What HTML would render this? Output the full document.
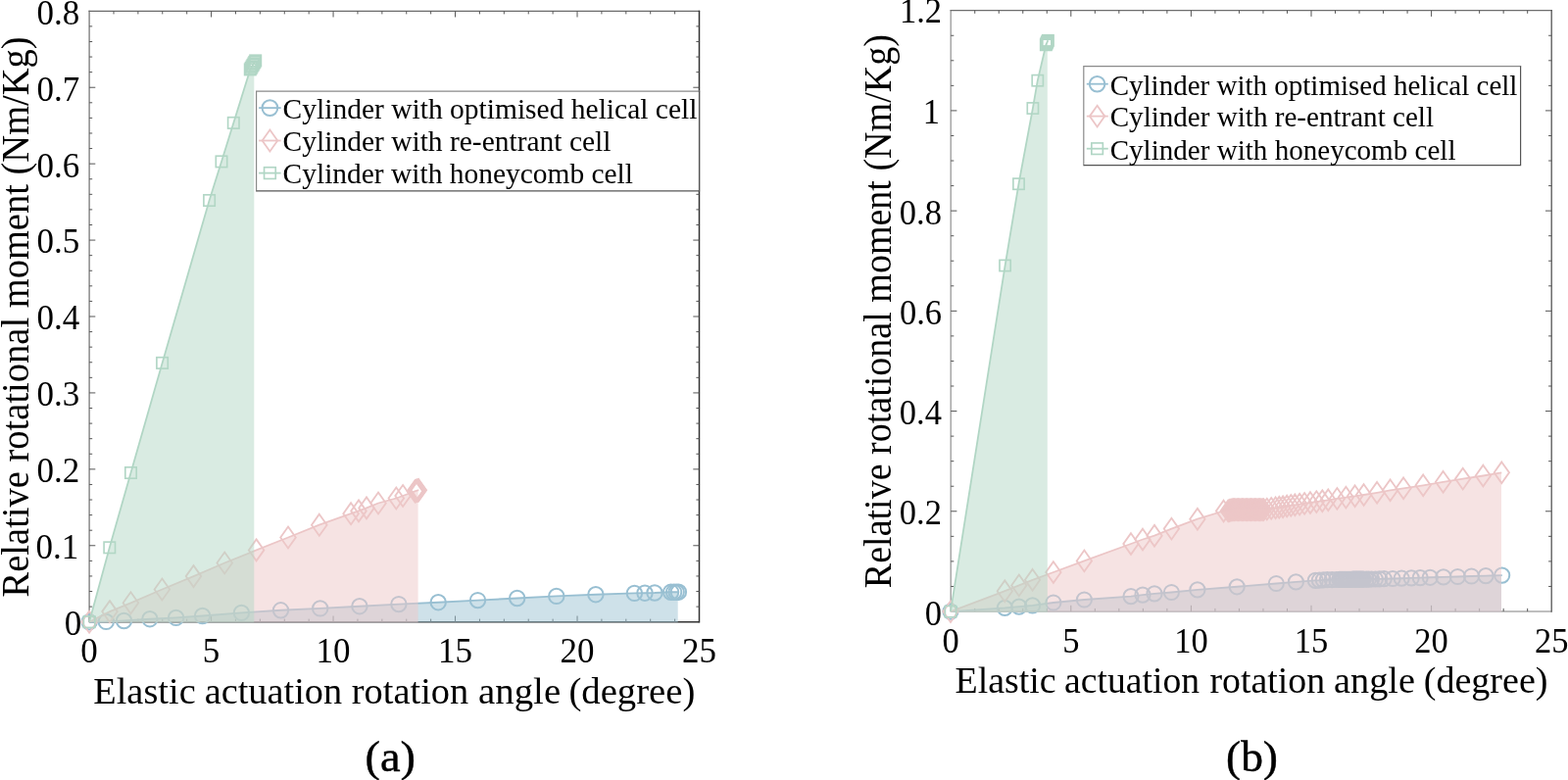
<!DOCTYPE html>
<html lang="en">
<head>
<meta charset="utf-8">
<title>Relative rotational moment vs elastic actuation rotation angle</title>
<style>
html,body{margin:0;padding:0;background:#fff;}
body{width:1600px;height:796px;overflow:hidden;}
svg{display:block;}
svg text{font-family:"Liberation Serif", "Times New Roman", serif;fill:#000;}
</style>
</head>
<body>
<svg width="1600" height="796" viewBox="0 0 1600 796">
<rect width="1600" height="796" fill="#fff"/>
<g id="chart-a">
<path d="M91.1 635.3V10.7" fill="none" stroke="#777" stroke-width="1.3"/>
<path d="M90.5 11.3H714.1" fill="none" stroke="#6a6a6a" stroke-width="1.3"/>
<path d="M91.1 634.7H713.5" fill="none" stroke="#333" stroke-width="1.5"/>
<path d="M713.5 10.7V635.4" fill="none" stroke="#333" stroke-width="1.5"/>
<path d="M116 634.7v-3.1M116 11.3v3.1M140.89 634.7v-3.1M140.89 11.3v3.1M165.79 634.7v-3.1M165.79 11.3v3.1M190.68 634.7v-3.1M190.68 11.3v3.1M215.58 634.7v-6.2M215.58 11.3v6.2M240.48 634.7v-3.1M240.48 11.3v3.1M265.37 634.7v-3.1M265.37 11.3v3.1M290.27 634.7v-3.1M290.27 11.3v3.1M315.16 634.7v-3.1M315.16 11.3v3.1M340.06 634.7v-6.2M340.06 11.3v6.2M364.96 634.7v-3.1M364.96 11.3v3.1M389.85 634.7v-3.1M389.85 11.3v3.1M414.75 634.7v-3.1M414.75 11.3v3.1M439.64 634.7v-3.1M439.64 11.3v3.1M464.54 634.7v-6.2M464.54 11.3v6.2M489.44 634.7v-3.1M489.44 11.3v3.1M514.33 634.7v-3.1M514.33 11.3v3.1M539.23 634.7v-3.1M539.23 11.3v3.1M564.12 634.7v-3.1M564.12 11.3v3.1M589.02 634.7v-6.2M589.02 11.3v6.2M613.92 634.7v-3.1M613.92 11.3v3.1M638.81 634.7v-3.1M638.81 11.3v3.1M663.71 634.7v-3.1M663.71 11.3v3.1M688.6 634.7v-3.1M688.6 11.3v3.1M91.1 619.12h3.1M713.5 619.12h-3.1M91.1 603.53h3.1M713.5 603.53h-3.1M91.1 587.95h3.1M713.5 587.95h-3.1M91.1 572.36h3.1M713.5 572.36h-3.1M91.1 556.78h6.2M713.5 556.78h-6.2M91.1 541.19h3.1M713.5 541.19h-3.1M91.1 525.61h3.1M713.5 525.61h-3.1M91.1 510.02h3.1M713.5 510.02h-3.1M91.1 494.44h3.1M713.5 494.44h-3.1M91.1 478.85h6.2M713.5 478.85h-6.2M91.1 463.26h3.1M713.5 463.26h-3.1M91.1 447.68h3.1M713.5 447.68h-3.1M91.1 432.1h3.1M713.5 432.1h-3.1M91.1 416.51h3.1M713.5 416.51h-3.1M91.1 400.93h6.2M713.5 400.93h-6.2M91.1 385.34h3.1M713.5 385.34h-3.1M91.1 369.75h3.1M713.5 369.75h-3.1M91.1 354.17h3.1M713.5 354.17h-3.1M91.1 338.58h3.1M713.5 338.58h-3.1M91.1 323h6.2M713.5 323h-6.2M91.1 307.42h3.1M713.5 307.42h-3.1M91.1 291.83h3.1M713.5 291.83h-3.1M91.1 276.25h3.1M713.5 276.25h-3.1M91.1 260.66h3.1M713.5 260.66h-3.1M91.1 245.07h6.2M713.5 245.07h-6.2M91.1 229.49h3.1M713.5 229.49h-3.1M91.1 213.9h3.1M713.5 213.9h-3.1M91.1 198.32h3.1M713.5 198.32h-3.1M91.1 182.74h3.1M713.5 182.74h-3.1M91.1 167.15h6.2M713.5 167.15h-6.2M91.1 151.56h3.1M713.5 151.56h-3.1M91.1 135.98h3.1M713.5 135.98h-3.1M91.1 120.39h3.1M713.5 120.39h-3.1M91.1 104.81h3.1M713.5 104.81h-3.1M91.1 89.22h6.2M713.5 89.22h-6.2M91.1 73.64h3.1M713.5 73.64h-3.1M91.1 58.05h3.1M713.5 58.05h-3.1M91.1 42.47h3.1M713.5 42.47h-3.1M91.1 26.88h3.1M713.5 26.88h-3.1" fill="none" stroke="#555" stroke-width="1"/>
<g font-size="36.3" text-anchor="middle">
<text x="91.1" y="676.3" textLength="17.5" lengthAdjust="spacingAndGlyphs">0</text>
<text x="215.58" y="676.3" textLength="17.5" lengthAdjust="spacingAndGlyphs">5</text>
<text x="340.06" y="676.3" textLength="35" lengthAdjust="spacingAndGlyphs">10</text>
<text x="464.54" y="676.3" textLength="35" lengthAdjust="spacingAndGlyphs">15</text>
<text x="589.02" y="676.3" textLength="35" lengthAdjust="spacingAndGlyphs">20</text>
<text x="713.5" y="676.3" textLength="35" lengthAdjust="spacingAndGlyphs">25</text>
</g>
<g font-size="36.3" text-anchor="end">
<text x="83.2" y="648.4" textLength="17.5" lengthAdjust="spacingAndGlyphs">0</text>
<text x="80.2" y="570.18" textLength="43.75" lengthAdjust="spacingAndGlyphs">0.1</text>
<text x="81.2" y="492.25" textLength="43.75" lengthAdjust="spacingAndGlyphs">0.2</text>
<text x="81.2" y="414.32" textLength="43.75" lengthAdjust="spacingAndGlyphs">0.3</text>
<text x="81.2" y="336.4" textLength="43.75" lengthAdjust="spacingAndGlyphs">0.4</text>
<text x="81.2" y="258.47" textLength="43.75" lengthAdjust="spacingAndGlyphs">0.5</text>
<text x="81.2" y="180.55" textLength="43.75" lengthAdjust="spacingAndGlyphs">0.6</text>
<text x="81.2" y="102.62" textLength="43.75" lengthAdjust="spacingAndGlyphs">0.7</text>
<text x="81.2" y="24.7" textLength="43.75" lengthAdjust="spacingAndGlyphs">0.8</text>
</g>
<text font-size="38.2" xml:space="preserve"><tspan x="95.29" y="718.3" textLength="104.39" lengthAdjust="spacingAndGlyphs">Elastic</tspan> <tspan x="208.75" y="718.3" textLength="140.33" lengthAdjust="spacingAndGlyphs">actuation</tspan> <tspan x="358.83" y="718.3" textLength="119.35" lengthAdjust="spacingAndGlyphs">rotation</tspan> <tspan x="488.03" y="718.3" textLength="84.11" lengthAdjust="spacingAndGlyphs">angle</tspan> <tspan x="580.4" y="718.3" textLength="129" lengthAdjust="spacingAndGlyphs">(degree)</tspan></text>
<text transform="translate(29.2 607) rotate(-90)" font-size="40.3" xml:space="preserve"><tspan x="-2.41" y="0" textLength="572.1" lengthAdjust="spacingAndGlyphs">Relative rotational moment (Nm/Kg)</tspan></text>
<clipPath id="clipa"><rect x="91.1" y="11.3" width="622.4" height="624.05"/></clipPath>
<g><polyline points="91.1,634.7 108.3,634.4 126.5,633.5 152.9,631.7 179.6,630.4 206.6,628.5 246.4,625.4 286.5,622.8 326.7,620.9 366.9,618.7 406.9,616.6 447.2,614.7 487.5,612.6 527.7,610.5 567.8,608.4 607.9,606.7 647.4,605.4 658,605.2 668,605 684.6,604.3 687.6,604.3 690.2,604.2 692.4,604.2" fill="none" stroke="#98BFD2" stroke-width="1.9" stroke-linejoin="round"/>
<circle cx="91.1" cy="634.7" r="7.7" fill="none" stroke="#98BFD2" stroke-width="2.0"/><circle cx="108.3" cy="634.4" r="7.7" fill="none" stroke="#98BFD2" stroke-width="2.0"/><circle cx="126.5" cy="633.5" r="7.7" fill="none" stroke="#98BFD2" stroke-width="2.0"/><circle cx="152.9" cy="631.7" r="7.7" fill="none" stroke="#98BFD2" stroke-width="2.0"/><circle cx="179.6" cy="630.4" r="7.7" fill="none" stroke="#98BFD2" stroke-width="2.0"/><circle cx="206.6" cy="628.5" r="7.7" fill="none" stroke="#98BFD2" stroke-width="2.0"/><circle cx="246.4" cy="625.4" r="7.7" fill="none" stroke="#98BFD2" stroke-width="2.0"/><circle cx="286.5" cy="622.8" r="7.7" fill="none" stroke="#98BFD2" stroke-width="2.0"/><circle cx="326.7" cy="620.9" r="7.7" fill="none" stroke="#98BFD2" stroke-width="2.0"/><circle cx="366.9" cy="618.7" r="7.7" fill="none" stroke="#98BFD2" stroke-width="2.0"/><circle cx="406.9" cy="616.6" r="7.7" fill="none" stroke="#98BFD2" stroke-width="2.0"/><circle cx="447.2" cy="614.7" r="7.7" fill="none" stroke="#98BFD2" stroke-width="2.0"/><circle cx="487.5" cy="612.6" r="7.7" fill="none" stroke="#98BFD2" stroke-width="2.0"/><circle cx="527.7" cy="610.5" r="7.7" fill="none" stroke="#98BFD2" stroke-width="2.0"/><circle cx="567.8" cy="608.4" r="7.7" fill="none" stroke="#98BFD2" stroke-width="2.0"/><circle cx="607.9" cy="606.7" r="7.7" fill="none" stroke="#98BFD2" stroke-width="2.0"/><circle cx="647.4" cy="605.4" r="7.7" fill="none" stroke="#98BFD2" stroke-width="2.0"/><circle cx="658" cy="605.2" r="7.7" fill="none" stroke="#98BFD2" stroke-width="2.0"/><circle cx="668" cy="605" r="7.7" fill="none" stroke="#98BFD2" stroke-width="2.0"/><circle cx="684.6" cy="604.3" r="7.7" fill="none" stroke="#98BFD2" stroke-width="2.0"/><circle cx="687.6" cy="604.3" r="7.7" fill="none" stroke="#98BFD2" stroke-width="2.0"/><circle cx="690.2" cy="604.2" r="7.7" fill="none" stroke="#98BFD2" stroke-width="2.0"/><circle cx="692.4" cy="604.2" r="7.7" fill="none" stroke="#98BFD2" stroke-width="2.0"/></g>
<g clip-path="url(#clipa)"><path d="M91.1 636.7L91.1 634.7L108.3 634.4L126.5 633.5L152.9 631.7L179.6 630.4L206.6 628.5L246.4 625.4L286.5 622.8L326.7 620.9L366.9 618.7L406.9 616.6L447.2 614.7L487.5 612.6L527.7 610.5L567.8 608.4L607.9 606.7L647.4 605.4L658 605.2L668 605L684.6 604.3L687.6 604.3L690.2 604.2L691.7 604.2L691.7 636.7Z" fill="#9DC3D3" fill-opacity="0.5"/></g>
<g><polyline points="91.1,634.7 112,624.1 133.4,615.3 165.4,601.5 197.5,588.1 229.2,574.5 261.6,561.4 294,548.5 325.8,535.7 358.1,524.2 366,521.4 374,518.4 386,513.5 404.3,508.5 411.1,506 423.4,501.3 424.1,501.1 424.8,500.9 425.5,500.7 426.2,500.5 426.8,500.3 427.3,500.2" fill="none" stroke="#ECC6C7" stroke-width="1.8" stroke-linejoin="round"/>
<path d="M91.1 623.7L98.9 634.7L91.1 645.7L83.3 634.7Z" fill="none" stroke="#ECC6C7" stroke-width="1.85" stroke-linejoin="miter"/><path d="M112 613.1L119.8 624.1L112 635.1L104.2 624.1Z" fill="none" stroke="#ECC6C7" stroke-width="1.85" stroke-linejoin="miter"/><path d="M133.4 604.3L141.2 615.3L133.4 626.3L125.6 615.3Z" fill="none" stroke="#ECC6C7" stroke-width="1.85" stroke-linejoin="miter"/><path d="M165.4 590.5L173.2 601.5L165.4 612.5L157.6 601.5Z" fill="none" stroke="#ECC6C7" stroke-width="1.85" stroke-linejoin="miter"/><path d="M197.5 577.1L205.3 588.1L197.5 599.1L189.7 588.1Z" fill="none" stroke="#ECC6C7" stroke-width="1.85" stroke-linejoin="miter"/><path d="M229.2 563.5L237 574.5L229.2 585.5L221.4 574.5Z" fill="none" stroke="#ECC6C7" stroke-width="1.85" stroke-linejoin="miter"/><path d="M261.6 550.4L269.4 561.4L261.6 572.4L253.8 561.4Z" fill="none" stroke="#ECC6C7" stroke-width="1.85" stroke-linejoin="miter"/><path d="M294 537.5L301.8 548.5L294 559.5L286.2 548.5Z" fill="none" stroke="#ECC6C7" stroke-width="1.85" stroke-linejoin="miter"/><path d="M325.8 524.7L333.6 535.7L325.8 546.7L318 535.7Z" fill="none" stroke="#ECC6C7" stroke-width="1.85" stroke-linejoin="miter"/><path d="M358.1 513.2L365.9 524.2L358.1 535.2L350.3 524.2Z" fill="none" stroke="#ECC6C7" stroke-width="1.85" stroke-linejoin="miter"/><path d="M366 510.4L373.8 521.4L366 532.4L358.2 521.4Z" fill="none" stroke="#ECC6C7" stroke-width="1.85" stroke-linejoin="miter"/><path d="M374 507.4L381.8 518.4L374 529.4L366.2 518.4Z" fill="none" stroke="#ECC6C7" stroke-width="1.85" stroke-linejoin="miter"/><path d="M386 502.5L393.8 513.5L386 524.5L378.2 513.5Z" fill="none" stroke="#ECC6C7" stroke-width="1.85" stroke-linejoin="miter"/><path d="M404.3 497.5L412.1 508.5L404.3 519.5L396.5 508.5Z" fill="none" stroke="#ECC6C7" stroke-width="1.85" stroke-linejoin="miter"/><path d="M411.1 495L418.9 506L411.1 517L403.3 506Z" fill="none" stroke="#ECC6C7" stroke-width="1.85" stroke-linejoin="miter"/><path d="M423.4 490.3L431.2 501.3L423.4 512.3L415.6 501.3Z" fill="none" stroke="#ECC6C7" stroke-width="1.85" stroke-linejoin="miter"/><path d="M424.1 490.1L431.9 501.1L424.1 512.1L416.3 501.1Z" fill="none" stroke="#ECC6C7" stroke-width="1.85" stroke-linejoin="miter"/><path d="M424.8 489.9L432.6 500.9L424.8 511.9L417 500.9Z" fill="none" stroke="#ECC6C7" stroke-width="1.85" stroke-linejoin="miter"/><path d="M425.5 489.7L433.3 500.7L425.5 511.7L417.7 500.7Z" fill="none" stroke="#ECC6C7" stroke-width="1.85" stroke-linejoin="miter"/><path d="M426.2 489.5L434 500.5L426.2 511.5L418.4 500.5Z" fill="none" stroke="#ECC6C7" stroke-width="1.85" stroke-linejoin="miter"/><path d="M426.8 489.3L434.6 500.3L426.8 511.3L419 500.3Z" fill="none" stroke="#ECC6C7" stroke-width="1.85" stroke-linejoin="miter"/><path d="M427.3 489.2L435.1 500.2L427.3 511.2L419.5 500.2Z" fill="none" stroke="#ECC6C7" stroke-width="1.85" stroke-linejoin="miter"/></g>
<g clip-path="url(#clipa)"><path d="M91.1 636.7L91.1 634.7L112 624.1L133.4 615.3L165.4 601.5L197.5 588.1L229.2 574.5L261.6 561.4L294 548.5L325.8 535.7L358.1 524.2L366 521.4L374 518.4L386 513.5L404.3 508.5L411.1 506L423.4 501.3L424.1 501.1L424.8 500.9L425.5 500.7L426.2 500.5L426.6 500.2L426.6 636.7Z" fill="#EDC7C7" fill-opacity="0.5"/></g>
<g><polyline points="91.1,634.7 111.8,558.8 133.5,482.5 165.6,370.4 213.6,204.5 226,164.9 238.3,125.4 255.3,70.9 256.2,69.4 257.1,67.9 258,66.4 258.9,64.9 259.8,63.4 260.7,61.9" fill="none" stroke="#B1D6C5" stroke-width="1.8" stroke-linejoin="round"/>
<rect x="85.4" y="629" width="11.4" height="11.4" fill="none" stroke="#B1D6C5" stroke-width="1.65"/><rect x="106.1" y="553.1" width="11.4" height="11.4" fill="none" stroke="#B1D6C5" stroke-width="1.65"/><rect x="127.8" y="476.8" width="11.4" height="11.4" fill="none" stroke="#B1D6C5" stroke-width="1.65"/><rect x="159.9" y="364.7" width="11.4" height="11.4" fill="none" stroke="#B1D6C5" stroke-width="1.65"/><rect x="207.9" y="198.8" width="11.4" height="11.4" fill="none" stroke="#B1D6C5" stroke-width="1.65"/><rect x="220.3" y="159.2" width="11.4" height="11.4" fill="none" stroke="#B1D6C5" stroke-width="1.65"/><rect x="232.6" y="119.7" width="11.4" height="11.4" fill="none" stroke="#B1D6C5" stroke-width="1.65"/><rect x="249.6" y="65.2" width="11.4" height="11.4" fill="none" stroke="#B1D6C5" stroke-width="1.65"/><rect x="250.5" y="63.7" width="11.4" height="11.4" fill="none" stroke="#B1D6C5" stroke-width="1.65"/><rect x="251.4" y="62.2" width="11.4" height="11.4" fill="none" stroke="#B1D6C5" stroke-width="1.65"/><rect x="252.3" y="60.7" width="11.4" height="11.4" fill="none" stroke="#B1D6C5" stroke-width="1.65"/><rect x="253.2" y="59.2" width="11.4" height="11.4" fill="none" stroke="#B1D6C5" stroke-width="1.65"/><rect x="254.1" y="57.7" width="11.4" height="11.4" fill="none" stroke="#B1D6C5" stroke-width="1.65"/><rect x="255" y="56.2" width="11.4" height="11.4" fill="none" stroke="#B1D6C5" stroke-width="1.65"/></g>
<g clip-path="url(#clipa)"><path d="M91.1 636.7L91.1 634.7L111.8 558.8L133.5 482.5L165.6 370.4L213.6 204.5L226 164.9L238.3 125.4L255.3 70.9L256.2 69.4L257.1 67.9L258 66.4L258.9 64.9L259.3 61.9L259.3 636.7Z" fill="#B3D7C5" fill-opacity="0.5"/></g>
<rect x="261.6" y="93.1" width="451.9" height="101.7" fill="#fff"/>
<path d="M261.6 195.4V93.1H714.1" fill="none" stroke="#8a8a8a" stroke-width="1.2"/>
<path d="M261.6 194.8H713.5V93.1" fill="none" stroke="#555" stroke-width="1.2"/>
<path d="M264.1 110.1H286.7" stroke="#98BFD2" stroke-width="1.8" fill="none"/>
<circle cx="275.4" cy="110.1" r="7.9" fill="none" stroke="#98BFD2" stroke-width="2.0"/>
<text x="288.6" y="120.7" font-size="29.4" textLength="422.8" lengthAdjust="spacingAndGlyphs">Cylinder with optimised helical cell</text>
<path d="M264.1 143.5H286.7" stroke="#ECC6C7" stroke-width="1.8" fill="none"/>
<path d="M275.4 132.5L283.2 143.5L275.4 154.5L267.6 143.5Z" fill="none" stroke="#ECC6C7" stroke-width="1.85" stroke-linejoin="miter"/>
<text x="288.6" y="154.1" font-size="29.4" textLength="334.9" lengthAdjust="spacingAndGlyphs">Cylinder with re-entrant cell</text>
<path d="M264.1 176.6H286.7" stroke="#B1D6C5" stroke-width="1.8" fill="none"/>
<rect x="269.55" y="170.75" width="11.7" height="11.7" fill="none" stroke="#B1D6C5" stroke-width="1.65"/>
<text x="288.6" y="187.2" font-size="29.4" textLength="357.4" lengthAdjust="spacingAndGlyphs">Cylinder with honeycomb cell</text>
<text x="372.5" y="786.8" font-size="45" textLength="51.5" lengthAdjust="spacingAndGlyphs" stroke="#000" stroke-width="0.45">(a)</text>
</g>
<g id="chart-b">
<path d="M970.2 624.6V10.1" fill="none" stroke="#999" stroke-width="1.3"/>
<path d="M969.6 10.7H1583.8" fill="none" stroke="#6e6e6e" stroke-width="1.3"/>
<path d="M970.2 624.0H1583.2" fill="none" stroke="#aaa" stroke-width="1.3"/>
<path d="M1583.2 10.1V624.7" fill="none" stroke="#555" stroke-width="1.3"/>
<path d="M994.72 624v-3.1M994.72 10.7v3.1M1019.24 624v-3.1M1019.24 10.7v3.1M1043.76 624v-3.1M1043.76 10.7v3.1M1068.28 624v-3.1M1068.28 10.7v3.1M1092.8 624v-6.2M1092.8 10.7v6.2M1117.32 624v-3.1M1117.32 10.7v3.1M1141.84 624v-3.1M1141.84 10.7v3.1M1166.36 624v-3.1M1166.36 10.7v3.1M1190.88 624v-3.1M1190.88 10.7v3.1M1215.4 624v-6.2M1215.4 10.7v6.2M1239.92 624v-3.1M1239.92 10.7v3.1M1264.44 624v-3.1M1264.44 10.7v3.1M1288.96 624v-3.1M1288.96 10.7v3.1M1313.48 624v-3.1M1313.48 10.7v3.1M1338 624v-6.2M1338 10.7v6.2M1362.52 624v-3.1M1362.52 10.7v3.1M1387.04 624v-3.1M1387.04 10.7v3.1M1411.56 624v-3.1M1411.56 10.7v3.1M1436.08 624v-3.1M1436.08 10.7v3.1M1460.6 624v-6.2M1460.6 10.7v6.2M1485.12 624v-3.1M1485.12 10.7v3.1M1509.64 624v-3.1M1509.64 10.7v3.1M1534.16 624v-3.1M1534.16 10.7v3.1M1558.68 624v-3.1M1558.68 10.7v3.1M970.2 598.45h3.1M1583.2 598.45h-3.1M970.2 572.89h3.1M1583.2 572.89h-3.1M970.2 547.34h3.1M1583.2 547.34h-3.1M970.2 521.78h6.2M1583.2 521.78h-6.2M970.2 496.23h3.1M1583.2 496.23h-3.1M970.2 470.67h3.1M1583.2 470.67h-3.1M970.2 445.12h3.1M1583.2 445.12h-3.1M970.2 419.57h6.2M1583.2 419.57h-6.2M970.2 394.01h3.1M1583.2 394.01h-3.1M970.2 368.46h3.1M1583.2 368.46h-3.1M970.2 342.9h3.1M1583.2 342.9h-3.1M970.2 317.35h6.2M1583.2 317.35h-6.2M970.2 291.8h3.1M1583.2 291.8h-3.1M970.2 266.24h3.1M1583.2 266.24h-3.1M970.2 240.69h3.1M1583.2 240.69h-3.1M970.2 215.13h6.2M1583.2 215.13h-6.2M970.2 189.58h3.1M1583.2 189.58h-3.1M970.2 164.03h3.1M1583.2 164.03h-3.1M970.2 138.47h3.1M1583.2 138.47h-3.1M970.2 112.92h6.2M1583.2 112.92h-6.2M970.2 87.36h3.1M1583.2 87.36h-3.1M970.2 61.81h3.1M1583.2 61.81h-3.1M970.2 36.25h3.1M1583.2 36.25h-3.1" fill="none" stroke="#555" stroke-width="1"/>
<g font-size="35.8" text-anchor="middle">
<text x="970.2" y="666.4" textLength="17.25" lengthAdjust="spacingAndGlyphs">0</text>
<text x="1092.8" y="666.4" textLength="17.25" lengthAdjust="spacingAndGlyphs">5</text>
<text x="1215.4" y="666.4" textLength="34.5" lengthAdjust="spacingAndGlyphs">10</text>
<text x="1338" y="666.4" textLength="34.5" lengthAdjust="spacingAndGlyphs">15</text>
<text x="1460.6" y="666.4" textLength="34.5" lengthAdjust="spacingAndGlyphs">20</text>
<text x="1583.2" y="666.4" textLength="34.5" lengthAdjust="spacingAndGlyphs">25</text>
</g>
<g font-size="35.8" text-anchor="end">
<text x="961.1" y="638.4" textLength="17.25" lengthAdjust="spacingAndGlyphs">0</text>
<text x="960.9" y="535.48" textLength="43.12" lengthAdjust="spacingAndGlyphs">0.2</text>
<text x="960.9" y="433.27" textLength="43.12" lengthAdjust="spacingAndGlyphs">0.4</text>
<text x="961.1" y="331.45" textLength="43.12" lengthAdjust="spacingAndGlyphs">0.6</text>
<text x="960.9" y="228.83" textLength="43.12" lengthAdjust="spacingAndGlyphs">0.8</text>
<text x="958.9" y="126.22" textLength="17.25" lengthAdjust="spacingAndGlyphs">1</text>
<text x="961.1" y="23.3" textLength="43.12" lengthAdjust="spacingAndGlyphs">1.2</text>
</g>
<text font-size="37.6" xml:space="preserve"><tspan x="974.51" y="707.4" textLength="103.16" lengthAdjust="spacingAndGlyphs">Elastic</tspan> <tspan x="1086.08" y="707.4" textLength="137.99" lengthAdjust="spacingAndGlyphs">actuation</tspan> <tspan x="1234.54" y="707.4" textLength="117.53" lengthAdjust="spacingAndGlyphs">rotation</tspan> <tspan x="1361.05" y="707.4" textLength="82.87" lengthAdjust="spacingAndGlyphs">angle</tspan> <tspan x="1452.73" y="707.4" textLength="126.74" lengthAdjust="spacingAndGlyphs">(degree)</tspan></text>
<text transform="translate(909.2 598) rotate(-90)" font-size="39.1" xml:space="preserve"><tspan x="-2.2" y="0" textLength="565.07" lengthAdjust="spacingAndGlyphs">Relative rotational moment (Nm/Kg)</tspan></text>
<clipPath id="clipb"><rect x="970.2" y="10.7" width="613" height="614.1"/></clipPath>
<g><polyline points="970,624.1 1025.3,620.4 1039.8,619.1 1053.6,617.9 1074.9,615 1106.4,612 1154,608.6 1166,607.1 1178,605.9 1195.4,604.5 1221.9,601.9 1262.2,598.8 1302.3,595.5 1322.4,593.9 1342.3,592.4 1346.3,592.2 1350.3,591.9 1354.4,591.7 1359.2,591.6 1363.6,591.5 1367,591.4 1368.3,591.4 1369.7,591.4 1371,591.3 1372.4,591.3 1373.7,591.3 1375.1,591.3 1376.4,591.3 1377.8,591.3 1379.1,591.3 1380.5,591.2 1381.8,591.2 1383.2,591.2 1384.5,591.2 1385.9,591.2 1387.2,591.2 1388.6,591.2 1389.9,591.1 1391.3,591.1 1394.2,591.1 1396.6,591.1 1399.6,591 1403.4,591 1407.6,590.9 1412.3,590.7 1421.1,590.5 1430.2,590.2 1440.2,589.9 1449.2,589.6 1459.3,589.3 1472.9,588.9 1487.4,588.5 1501.5,588 1516.1,587.6 1532.7,587.1" fill="none" stroke="#98BFD2" stroke-width="1.9" stroke-linejoin="round"/>
<circle cx="970" cy="624.1" r="7.58" fill="none" stroke="#98BFD2" stroke-width="2.0"/><circle cx="1025.3" cy="620.4" r="7.58" fill="none" stroke="#98BFD2" stroke-width="2.0"/><circle cx="1039.8" cy="619.1" r="7.58" fill="none" stroke="#98BFD2" stroke-width="2.0"/><circle cx="1053.6" cy="617.9" r="7.58" fill="none" stroke="#98BFD2" stroke-width="2.0"/><circle cx="1074.9" cy="615" r="7.58" fill="none" stroke="#98BFD2" stroke-width="2.0"/><circle cx="1106.4" cy="612" r="7.58" fill="none" stroke="#98BFD2" stroke-width="2.0"/><circle cx="1154" cy="608.6" r="7.58" fill="none" stroke="#98BFD2" stroke-width="2.0"/><circle cx="1166" cy="607.1" r="7.58" fill="none" stroke="#98BFD2" stroke-width="2.0"/><circle cx="1178" cy="605.9" r="7.58" fill="none" stroke="#98BFD2" stroke-width="2.0"/><circle cx="1195.4" cy="604.5" r="7.58" fill="none" stroke="#98BFD2" stroke-width="2.0"/><circle cx="1221.9" cy="601.9" r="7.58" fill="none" stroke="#98BFD2" stroke-width="2.0"/><circle cx="1262.2" cy="598.8" r="7.58" fill="none" stroke="#98BFD2" stroke-width="2.0"/><circle cx="1302.3" cy="595.5" r="7.58" fill="none" stroke="#98BFD2" stroke-width="2.0"/><circle cx="1322.4" cy="593.9" r="7.58" fill="none" stroke="#98BFD2" stroke-width="2.0"/><circle cx="1342.3" cy="592.4" r="7.58" fill="none" stroke="#98BFD2" stroke-width="2.0"/><circle cx="1346.3" cy="592.2" r="7.58" fill="none" stroke="#98BFD2" stroke-width="2.0"/><circle cx="1350.3" cy="591.9" r="7.58" fill="none" stroke="#98BFD2" stroke-width="2.0"/><circle cx="1354.4" cy="591.7" r="7.58" fill="none" stroke="#98BFD2" stroke-width="2.0"/><circle cx="1359.2" cy="591.6" r="7.58" fill="none" stroke="#98BFD2" stroke-width="2.0"/><circle cx="1363.6" cy="591.5" r="7.58" fill="none" stroke="#98BFD2" stroke-width="2.0"/><circle cx="1367" cy="591.4" r="7.58" fill="none" stroke="#98BFD2" stroke-width="2.0"/><circle cx="1368.3" cy="591.4" r="7.58" fill="none" stroke="#98BFD2" stroke-width="2.0"/><circle cx="1369.7" cy="591.4" r="7.58" fill="none" stroke="#98BFD2" stroke-width="2.0"/><circle cx="1371" cy="591.3" r="7.58" fill="none" stroke="#98BFD2" stroke-width="2.0"/><circle cx="1372.4" cy="591.3" r="7.58" fill="none" stroke="#98BFD2" stroke-width="2.0"/><circle cx="1373.7" cy="591.3" r="7.58" fill="none" stroke="#98BFD2" stroke-width="2.0"/><circle cx="1375.1" cy="591.3" r="7.58" fill="none" stroke="#98BFD2" stroke-width="2.0"/><circle cx="1376.4" cy="591.3" r="7.58" fill="none" stroke="#98BFD2" stroke-width="2.0"/><circle cx="1377.8" cy="591.3" r="7.58" fill="none" stroke="#98BFD2" stroke-width="2.0"/><circle cx="1379.1" cy="591.3" r="7.58" fill="none" stroke="#98BFD2" stroke-width="2.0"/><circle cx="1380.5" cy="591.2" r="7.58" fill="none" stroke="#98BFD2" stroke-width="2.0"/><circle cx="1381.8" cy="591.2" r="7.58" fill="none" stroke="#98BFD2" stroke-width="2.0"/><circle cx="1383.2" cy="591.2" r="7.58" fill="none" stroke="#98BFD2" stroke-width="2.0"/><circle cx="1384.5" cy="591.2" r="7.58" fill="none" stroke="#98BFD2" stroke-width="2.0"/><circle cx="1385.9" cy="591.2" r="7.58" fill="none" stroke="#98BFD2" stroke-width="2.0"/><circle cx="1387.2" cy="591.2" r="7.58" fill="none" stroke="#98BFD2" stroke-width="2.0"/><circle cx="1388.6" cy="591.2" r="7.58" fill="none" stroke="#98BFD2" stroke-width="2.0"/><circle cx="1389.9" cy="591.1" r="7.58" fill="none" stroke="#98BFD2" stroke-width="2.0"/><circle cx="1391.3" cy="591.1" r="7.58" fill="none" stroke="#98BFD2" stroke-width="2.0"/><circle cx="1394.2" cy="591.1" r="7.58" fill="none" stroke="#98BFD2" stroke-width="2.0"/><circle cx="1396.6" cy="591.1" r="7.58" fill="none" stroke="#98BFD2" stroke-width="2.0"/><circle cx="1399.6" cy="591" r="7.58" fill="none" stroke="#98BFD2" stroke-width="2.0"/><circle cx="1403.4" cy="591" r="7.58" fill="none" stroke="#98BFD2" stroke-width="2.0"/><circle cx="1407.6" cy="590.9" r="7.58" fill="none" stroke="#98BFD2" stroke-width="2.0"/><circle cx="1412.3" cy="590.7" r="7.58" fill="none" stroke="#98BFD2" stroke-width="2.0"/><circle cx="1421.1" cy="590.5" r="7.58" fill="none" stroke="#98BFD2" stroke-width="2.0"/><circle cx="1430.2" cy="590.2" r="7.58" fill="none" stroke="#98BFD2" stroke-width="2.0"/><circle cx="1440.2" cy="589.9" r="7.58" fill="none" stroke="#98BFD2" stroke-width="2.0"/><circle cx="1449.2" cy="589.6" r="7.58" fill="none" stroke="#98BFD2" stroke-width="2.0"/><circle cx="1459.3" cy="589.3" r="7.58" fill="none" stroke="#98BFD2" stroke-width="2.0"/><circle cx="1472.9" cy="588.9" r="7.58" fill="none" stroke="#98BFD2" stroke-width="2.0"/><circle cx="1487.4" cy="588.5" r="7.58" fill="none" stroke="#98BFD2" stroke-width="2.0"/><circle cx="1501.5" cy="588" r="7.58" fill="none" stroke="#98BFD2" stroke-width="2.0"/><circle cx="1516.1" cy="587.6" r="7.58" fill="none" stroke="#98BFD2" stroke-width="2.0"/><circle cx="1532.7" cy="587.1" r="7.58" fill="none" stroke="#98BFD2" stroke-width="2.0"/></g>
<g clip-path="url(#clipb)"><path d="M970 626L970 624.1L1025.3 620.4L1039.8 619.1L1053.6 617.9L1074.9 615L1106.4 612L1154 608.6L1166 607.1L1178 605.9L1195.4 604.5L1221.9 601.9L1262.2 598.8L1302.3 595.5L1322.4 593.9L1342.3 592.4L1346.3 592.2L1350.3 591.9L1354.4 591.7L1359.2 591.6L1363.6 591.5L1367 591.4L1368.3 591.4L1369.7 591.4L1371 591.3L1372.4 591.3L1373.7 591.3L1375.1 591.3L1376.4 591.3L1377.8 591.3L1379.1 591.3L1380.5 591.2L1381.8 591.2L1383.2 591.2L1384.5 591.2L1385.9 591.2L1387.2 591.2L1388.6 591.2L1389.9 591.1L1391.3 591.1L1394.2 591.1L1396.6 591.1L1399.6 591L1403.4 591L1407.6 590.9L1412.3 590.7L1421.1 590.5L1430.2 590.2L1440.2 589.9L1449.2 589.6L1459.3 589.3L1472.9 588.9L1487.4 588.5L1501.5 588L1516.1 587.6L1532 587.1L1532 626Z" fill="#9DC3D3" fill-opacity="0.5"/></g>
<g><polyline points="970,624.1 1025.3,603.2 1039.8,597.4 1053.6,591.8 1074.9,584 1106.4,572.4 1154,555 1166,550.5 1178,546.7 1195.4,539.6 1221.9,529.7 1248.6,521.5 1253.2,521.4 1254.6,521 1255.9,520.6 1257.1,520.3 1258.3,520.1 1259.6,520.1 1260.9,520.1 1262.2,520.1 1263.5,520.1 1264.8,520.1 1266.1,520.1 1267.4,520.1 1268.7,520.1 1270,520.1 1271.3,520.1 1272.6,520.1 1273.9,520.1 1275.2,520.1 1276.5,520.1 1277.8,520.1 1279.1,520.1 1280.4,520.1 1281.7,520.1 1283,520.1 1284.3,520.1 1285.6,520.1 1286.9,520.1 1288.2,520.1 1289.5,520.1 1292.8,519.6 1297.2,518.9 1301.6,518.3 1305.3,517.7 1309.1,517.2 1313.2,516.5 1317.3,515.9 1321.4,515.3 1326.1,514.6 1331.1,513.9 1337,513 1343.3,512.1 1349.3,511.2 1355.3,510.3 1364.4,508.9 1373.4,507.6 1382.6,506.3 1391.6,505 1405.1,502.8 1418.6,500.3 1432.1,498.3 1452.2,495.3 1472.6,491.8 1492.7,488.6 1513.4,485.5 1532.3,482.3" fill="none" stroke="#ECC6C7" stroke-width="1.8" stroke-linejoin="round"/>
<path d="M970 613.26L977.68 624.1L970 634.94L962.32 624.1Z" fill="none" stroke="#ECC6C7" stroke-width="1.85" stroke-linejoin="miter"/><path d="M1025.3 592.37L1032.98 603.2L1025.3 614.04L1017.62 603.2Z" fill="none" stroke="#ECC6C7" stroke-width="1.85" stroke-linejoin="miter"/><path d="M1039.8 586.56L1047.48 597.4L1039.8 608.24L1032.12 597.4Z" fill="none" stroke="#ECC6C7" stroke-width="1.85" stroke-linejoin="miter"/><path d="M1053.6 580.96L1061.28 591.8L1053.6 602.63L1045.92 591.8Z" fill="none" stroke="#ECC6C7" stroke-width="1.85" stroke-linejoin="miter"/><path d="M1074.9 573.16L1082.58 584L1074.9 594.84L1067.22 584Z" fill="none" stroke="#ECC6C7" stroke-width="1.85" stroke-linejoin="miter"/><path d="M1106.4 561.56L1114.08 572.4L1106.4 583.24L1098.72 572.4Z" fill="none" stroke="#ECC6C7" stroke-width="1.85" stroke-linejoin="miter"/><path d="M1154 544.16L1161.68 555L1154 565.84L1146.32 555Z" fill="none" stroke="#ECC6C7" stroke-width="1.85" stroke-linejoin="miter"/><path d="M1166 539.66L1173.68 550.5L1166 561.34L1158.32 550.5Z" fill="none" stroke="#ECC6C7" stroke-width="1.85" stroke-linejoin="miter"/><path d="M1178 535.87L1185.68 546.7L1178 557.54L1170.32 546.7Z" fill="none" stroke="#ECC6C7" stroke-width="1.85" stroke-linejoin="miter"/><path d="M1195.4 528.76L1203.08 539.6L1195.4 550.44L1187.72 539.6Z" fill="none" stroke="#ECC6C7" stroke-width="1.85" stroke-linejoin="miter"/><path d="M1221.9 518.87L1229.58 529.7L1221.9 540.54L1214.22 529.7Z" fill="none" stroke="#ECC6C7" stroke-width="1.85" stroke-linejoin="miter"/><path d="M1248.6 510.67L1256.28 521.5L1248.6 532.34L1240.92 521.5Z" fill="none" stroke="#ECC6C7" stroke-width="1.85" stroke-linejoin="miter"/><path d="M1253.2 510.56L1260.88 521.4L1253.2 532.24L1245.52 521.4Z" fill="none" stroke="#ECC6C7" stroke-width="1.85" stroke-linejoin="miter"/><path d="M1254.6 510.17L1262.28 521L1254.6 531.84L1246.92 521Z" fill="none" stroke="#ECC6C7" stroke-width="1.85" stroke-linejoin="miter"/><path d="M1255.9 509.77L1263.58 520.6L1255.9 531.44L1248.22 520.6Z" fill="none" stroke="#ECC6C7" stroke-width="1.85" stroke-linejoin="miter"/><path d="M1257.1 509.46L1264.78 520.3L1257.1 531.13L1249.42 520.3Z" fill="none" stroke="#ECC6C7" stroke-width="1.85" stroke-linejoin="miter"/><path d="M1258.3 509.27L1265.98 520.1L1258.3 530.94L1250.62 520.1Z" fill="none" stroke="#ECC6C7" stroke-width="1.85" stroke-linejoin="miter"/><path d="M1259.6 509.27L1267.28 520.1L1259.6 530.94L1251.92 520.1Z" fill="none" stroke="#ECC6C7" stroke-width="1.85" stroke-linejoin="miter"/><path d="M1260.9 509.27L1268.58 520.1L1260.9 530.94L1253.22 520.1Z" fill="none" stroke="#ECC6C7" stroke-width="1.85" stroke-linejoin="miter"/><path d="M1262.2 509.27L1269.88 520.1L1262.2 530.94L1254.52 520.1Z" fill="none" stroke="#ECC6C7" stroke-width="1.85" stroke-linejoin="miter"/><path d="M1263.5 509.27L1271.18 520.1L1263.5 530.94L1255.82 520.1Z" fill="none" stroke="#ECC6C7" stroke-width="1.85" stroke-linejoin="miter"/><path d="M1264.8 509.27L1272.48 520.1L1264.8 530.94L1257.12 520.1Z" fill="none" stroke="#ECC6C7" stroke-width="1.85" stroke-linejoin="miter"/><path d="M1266.1 509.27L1273.78 520.1L1266.1 530.94L1258.42 520.1Z" fill="none" stroke="#ECC6C7" stroke-width="1.85" stroke-linejoin="miter"/><path d="M1267.4 509.27L1275.08 520.1L1267.4 530.94L1259.72 520.1Z" fill="none" stroke="#ECC6C7" stroke-width="1.85" stroke-linejoin="miter"/><path d="M1268.7 509.27L1276.38 520.1L1268.7 530.94L1261.02 520.1Z" fill="none" stroke="#ECC6C7" stroke-width="1.85" stroke-linejoin="miter"/><path d="M1270 509.27L1277.68 520.1L1270 530.94L1262.32 520.1Z" fill="none" stroke="#ECC6C7" stroke-width="1.85" stroke-linejoin="miter"/><path d="M1271.3 509.27L1278.98 520.1L1271.3 530.94L1263.62 520.1Z" fill="none" stroke="#ECC6C7" stroke-width="1.85" stroke-linejoin="miter"/><path d="M1272.6 509.27L1280.28 520.1L1272.6 530.94L1264.92 520.1Z" fill="none" stroke="#ECC6C7" stroke-width="1.85" stroke-linejoin="miter"/><path d="M1273.9 509.27L1281.58 520.1L1273.9 530.94L1266.22 520.1Z" fill="none" stroke="#ECC6C7" stroke-width="1.85" stroke-linejoin="miter"/><path d="M1275.2 509.27L1282.88 520.1L1275.2 530.94L1267.52 520.1Z" fill="none" stroke="#ECC6C7" stroke-width="1.85" stroke-linejoin="miter"/><path d="M1276.5 509.27L1284.18 520.1L1276.5 530.94L1268.82 520.1Z" fill="none" stroke="#ECC6C7" stroke-width="1.85" stroke-linejoin="miter"/><path d="M1277.8 509.27L1285.48 520.1L1277.8 530.94L1270.12 520.1Z" fill="none" stroke="#ECC6C7" stroke-width="1.85" stroke-linejoin="miter"/><path d="M1279.1 509.27L1286.78 520.1L1279.1 530.94L1271.42 520.1Z" fill="none" stroke="#ECC6C7" stroke-width="1.85" stroke-linejoin="miter"/><path d="M1280.4 509.27L1288.08 520.1L1280.4 530.94L1272.72 520.1Z" fill="none" stroke="#ECC6C7" stroke-width="1.85" stroke-linejoin="miter"/><path d="M1281.7 509.27L1289.38 520.1L1281.7 530.94L1274.02 520.1Z" fill="none" stroke="#ECC6C7" stroke-width="1.85" stroke-linejoin="miter"/><path d="M1283 509.27L1290.68 520.1L1283 530.94L1275.32 520.1Z" fill="none" stroke="#ECC6C7" stroke-width="1.85" stroke-linejoin="miter"/><path d="M1284.3 509.27L1291.98 520.1L1284.3 530.94L1276.62 520.1Z" fill="none" stroke="#ECC6C7" stroke-width="1.85" stroke-linejoin="miter"/><path d="M1285.6 509.27L1293.28 520.1L1285.6 530.94L1277.92 520.1Z" fill="none" stroke="#ECC6C7" stroke-width="1.85" stroke-linejoin="miter"/><path d="M1286.9 509.27L1294.58 520.1L1286.9 530.94L1279.22 520.1Z" fill="none" stroke="#ECC6C7" stroke-width="1.85" stroke-linejoin="miter"/><path d="M1288.2 509.27L1295.88 520.1L1288.2 530.94L1280.52 520.1Z" fill="none" stroke="#ECC6C7" stroke-width="1.85" stroke-linejoin="miter"/><path d="M1289.5 509.27L1297.18 520.1L1289.5 530.94L1281.82 520.1Z" fill="none" stroke="#ECC6C7" stroke-width="1.85" stroke-linejoin="miter"/><path d="M1292.8 508.77L1300.48 519.6L1292.8 530.44L1285.12 519.6Z" fill="none" stroke="#ECC6C7" stroke-width="1.85" stroke-linejoin="miter"/><path d="M1297.2 508.06L1304.88 518.9L1297.2 529.74L1289.52 518.9Z" fill="none" stroke="#ECC6C7" stroke-width="1.85" stroke-linejoin="miter"/><path d="M1301.6 507.46L1309.28 518.3L1301.6 529.13L1293.92 518.3Z" fill="none" stroke="#ECC6C7" stroke-width="1.85" stroke-linejoin="miter"/><path d="M1305.3 506.87L1312.98 517.7L1305.3 528.54L1297.62 517.7Z" fill="none" stroke="#ECC6C7" stroke-width="1.85" stroke-linejoin="miter"/><path d="M1309.1 506.37L1316.78 517.2L1309.1 528.04L1301.42 517.2Z" fill="none" stroke="#ECC6C7" stroke-width="1.85" stroke-linejoin="miter"/><path d="M1313.2 505.67L1320.88 516.5L1313.2 527.34L1305.52 516.5Z" fill="none" stroke="#ECC6C7" stroke-width="1.85" stroke-linejoin="miter"/><path d="M1317.3 505.06L1324.98 515.9L1317.3 526.74L1309.62 515.9Z" fill="none" stroke="#ECC6C7" stroke-width="1.85" stroke-linejoin="miter"/><path d="M1321.4 504.46L1329.08 515.3L1321.4 526.13L1313.72 515.3Z" fill="none" stroke="#ECC6C7" stroke-width="1.85" stroke-linejoin="miter"/><path d="M1326.1 503.77L1333.78 514.6L1326.1 525.44L1318.42 514.6Z" fill="none" stroke="#ECC6C7" stroke-width="1.85" stroke-linejoin="miter"/><path d="M1331.1 503.06L1338.78 513.9L1331.1 524.74L1323.42 513.9Z" fill="none" stroke="#ECC6C7" stroke-width="1.85" stroke-linejoin="miter"/><path d="M1337 502.17L1344.68 513L1337 523.84L1329.32 513Z" fill="none" stroke="#ECC6C7" stroke-width="1.85" stroke-linejoin="miter"/><path d="M1343.3 501.27L1350.98 512.1L1343.3 522.94L1335.62 512.1Z" fill="none" stroke="#ECC6C7" stroke-width="1.85" stroke-linejoin="miter"/><path d="M1349.3 500.37L1356.98 511.2L1349.3 522.03L1341.62 511.2Z" fill="none" stroke="#ECC6C7" stroke-width="1.85" stroke-linejoin="miter"/><path d="M1355.3 499.47L1362.98 510.3L1355.3 521.13L1347.62 510.3Z" fill="none" stroke="#ECC6C7" stroke-width="1.85" stroke-linejoin="miter"/><path d="M1364.4 498.06L1372.08 508.9L1364.4 519.74L1356.72 508.9Z" fill="none" stroke="#ECC6C7" stroke-width="1.85" stroke-linejoin="miter"/><path d="M1373.4 496.77L1381.08 507.6L1373.4 518.44L1365.72 507.6Z" fill="none" stroke="#ECC6C7" stroke-width="1.85" stroke-linejoin="miter"/><path d="M1382.6 495.47L1390.28 506.3L1382.6 517.13L1374.92 506.3Z" fill="none" stroke="#ECC6C7" stroke-width="1.85" stroke-linejoin="miter"/><path d="M1391.6 494.17L1399.28 505L1391.6 515.84L1383.92 505Z" fill="none" stroke="#ECC6C7" stroke-width="1.85" stroke-linejoin="miter"/><path d="M1405.1 491.97L1412.78 502.8L1405.1 513.63L1397.42 502.8Z" fill="none" stroke="#ECC6C7" stroke-width="1.85" stroke-linejoin="miter"/><path d="M1418.6 489.47L1426.28 500.3L1418.6 511.13L1410.92 500.3Z" fill="none" stroke="#ECC6C7" stroke-width="1.85" stroke-linejoin="miter"/><path d="M1432.1 487.47L1439.78 498.3L1432.1 509.13L1424.42 498.3Z" fill="none" stroke="#ECC6C7" stroke-width="1.85" stroke-linejoin="miter"/><path d="M1452.2 484.47L1459.88 495.3L1452.2 506.13L1444.52 495.3Z" fill="none" stroke="#ECC6C7" stroke-width="1.85" stroke-linejoin="miter"/><path d="M1472.6 480.97L1480.28 491.8L1472.6 502.63L1464.92 491.8Z" fill="none" stroke="#ECC6C7" stroke-width="1.85" stroke-linejoin="miter"/><path d="M1492.7 477.77L1500.38 488.6L1492.7 499.44L1485.02 488.6Z" fill="none" stroke="#ECC6C7" stroke-width="1.85" stroke-linejoin="miter"/><path d="M1513.4 474.67L1521.08 485.5L1513.4 496.33L1505.72 485.5Z" fill="none" stroke="#ECC6C7" stroke-width="1.85" stroke-linejoin="miter"/><path d="M1532.3 471.47L1539.98 482.3L1532.3 493.13L1524.62 482.3Z" fill="none" stroke="#ECC6C7" stroke-width="1.85" stroke-linejoin="miter"/></g>
<g clip-path="url(#clipb)"><path d="M970 626L970 624.1L1025.3 603.2L1039.8 597.4L1053.6 591.8L1074.9 584L1106.4 572.4L1154 555L1166 550.5L1178 546.7L1195.4 539.6L1221.9 529.7L1248.6 521.5L1253.2 521.4L1254.6 521L1255.9 520.6L1257.1 520.3L1258.3 520.1L1259.6 520.1L1260.9 520.1L1262.2 520.1L1263.5 520.1L1264.8 520.1L1266.1 520.1L1267.4 520.1L1268.7 520.1L1270 520.1L1271.3 520.1L1272.6 520.1L1273.9 520.1L1275.2 520.1L1276.5 520.1L1277.8 520.1L1279.1 520.1L1280.4 520.1L1281.7 520.1L1283 520.1L1284.3 520.1L1285.6 520.1L1286.9 520.1L1288.2 520.1L1289.5 520.1L1292.8 519.6L1297.2 518.9L1301.6 518.3L1305.3 517.7L1309.1 517.2L1313.2 516.5L1317.3 515.9L1321.4 515.3L1326.1 514.6L1331.1 513.9L1337 513L1343.3 512.1L1349.3 511.2L1355.3 510.3L1364.4 508.9L1373.4 507.6L1382.6 506.3L1391.6 505L1405.1 502.8L1418.6 500.3L1432.1 498.3L1452.2 495.3L1472.6 491.8L1492.7 488.6L1513.4 485.5L1532 482.3L1532 626Z" fill="#EDC7C7" fill-opacity="0.5"/></g>
<g><polyline points="970,624.1 1025.6,271 1039.5,187.7 1053.9,110.5 1058.8,82.2 1067.3,45.8 1067.7,44.9 1068.1,44 1068.5,43.1 1068.9,42.2 1069.4,41.3" fill="none" stroke="#B1D6C5" stroke-width="1.8" stroke-linejoin="round"/>
<rect x="964.39" y="618.49" width="11.23" height="11.23" fill="none" stroke="#B1D6C5" stroke-width="1.65"/><rect x="1019.99" y="265.39" width="11.23" height="11.23" fill="none" stroke="#B1D6C5" stroke-width="1.65"/><rect x="1033.89" y="182.09" width="11.23" height="11.23" fill="none" stroke="#B1D6C5" stroke-width="1.65"/><rect x="1048.29" y="104.89" width="11.23" height="11.23" fill="none" stroke="#B1D6C5" stroke-width="1.65"/><rect x="1053.19" y="76.59" width="11.23" height="11.23" fill="none" stroke="#B1D6C5" stroke-width="1.65"/><rect x="1061.69" y="40.19" width="11.23" height="11.23" fill="none" stroke="#B1D6C5" stroke-width="1.65"/><rect x="1062.09" y="39.29" width="11.23" height="11.23" fill="none" stroke="#B1D6C5" stroke-width="1.65"/><rect x="1062.49" y="38.39" width="11.23" height="11.23" fill="none" stroke="#B1D6C5" stroke-width="1.65"/><rect x="1062.89" y="37.49" width="11.23" height="11.23" fill="none" stroke="#B1D6C5" stroke-width="1.65"/><rect x="1063.29" y="36.59" width="11.23" height="11.23" fill="none" stroke="#B1D6C5" stroke-width="1.65"/><rect x="1063.79" y="35.69" width="11.23" height="11.23" fill="none" stroke="#B1D6C5" stroke-width="1.65"/></g>
<g clip-path="url(#clipb)"><path d="M970 626L970 624.1L1025.6 271L1039.5 187.7L1053.9 110.5L1058.8 82.2L1067.3 45.8L1067.7 44.9L1068.1 44L1068.5 43.1L1068.8 41.3L1068.8 626Z" fill="#B3D7C5" fill-opacity="0.5"/></g>
<rect x="1105.8" y="67.6" width="445.8" height="101.1" fill="#fff"/>
<path d="M1105.8 169.3V67.6H1552.2" fill="none" stroke="#8a8a8a" stroke-width="1.2"/>
<path d="M1105.8 168.7H1551.6V67.6" fill="none" stroke="#555" stroke-width="1.2"/>
<path d="M1108.8 85.7H1130.8" stroke="#98BFD2" stroke-width="1.8" fill="none"/>
<circle cx="1119.6" cy="85.7" r="7.78" fill="none" stroke="#98BFD2" stroke-width="2.0"/>
<text x="1132.7" y="96.5" font-size="28.85" textLength="415.7" lengthAdjust="spacingAndGlyphs">Cylinder with optimised helical cell</text>
<path d="M1108.8 118.6H1130.8" stroke="#ECC6C7" stroke-width="1.8" fill="none"/>
<path d="M1119.6 107.77L1127.28 118.6L1119.6 129.44L1111.92 118.6Z" fill="none" stroke="#ECC6C7" stroke-width="1.85" stroke-linejoin="miter"/>
<text x="1132.7" y="129.4" font-size="28.85" textLength="330.3" lengthAdjust="spacingAndGlyphs">Cylinder with re-entrant cell</text>
<path d="M1108.8 151.7H1130.8" stroke="#B1D6C5" stroke-width="1.8" fill="none"/>
<rect x="1113.84" y="145.94" width="11.52" height="11.52" fill="none" stroke="#B1D6C5" stroke-width="1.65"/>
<text x="1132.7" y="162.5" font-size="28.85" textLength="352.8" lengthAdjust="spacingAndGlyphs">Cylinder with honeycomb cell</text>
<text x="1251" y="786.8" font-size="45" textLength="53" lengthAdjust="spacingAndGlyphs" stroke="#000" stroke-width="0.45">(b)</text>
</g>
</svg>
</body>
</html>
